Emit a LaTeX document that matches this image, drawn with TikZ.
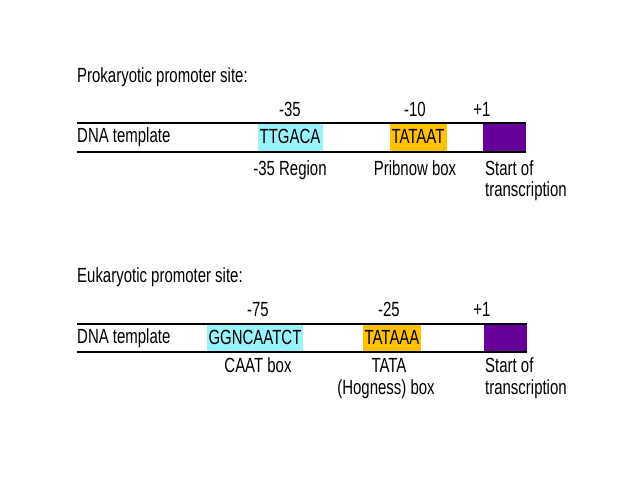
\documentclass[tikz,border=0pt]{standalone}
\usepackage{fontspec}
\setmainfont{Liberation Sans}[FakeStretch=0.73]
\usepackage{tikz}

\definecolor{boxcyan}{RGB}{153,243,250}
\definecolor{boxorange}{RGB}{255,192,0}
\definecolor{boxpurple}{RGB}{102,0,153}

\tikzset{
    lbl/.style={inner sep=0pt, anchor=base, font=\fontsize{20.5}{22}\selectfont},
    strand/.style={line width=1.5pt, black}
}

\begin{document}
\begin{tikzpicture}[x=1pt, y=-1pt]
        \useasboundingbox (0, 0) rectangle (638, 479);
        % Prokaryotic site:
        \node[lbl, anchor=base west](protitle) at (77, 82){Prokaryotic promoter site:};
        \fill[boxcyan] (258, 123) rectangle (323, 152);
        \fill[boxorange] (390, 123) rectangle (447, 152);
        \fill[boxpurple] (483, 123) rectangle (526, 152);
        \coordinate (protl) at (77, 123);
        \coordinate (protr) at (526, 123);
        \coordinate (probl) at (77, 152);
        \coordinate (probr) at (526, 152);
        \draw[strand] (protl) -- (protr);
        \draw[strand] (probl) -- (probr);
        \node[lbl, anchor=base west](prodna) at (77, 142){DNA template};
        \node[lbl](pro35) at (290, 116){-35};
        \node[lbl](pro10) at (415, 116){-10};
        \node[lbl](proone) at (482, 116){+1};
        \node[lbl](proseqa) at (290, 143){TTGACA};
        \node[lbl](proseqb) at (418, 143){TATAAT};
        \node[lbl](proregion) at (290, 175){-35 Region};
        \node[lbl](propribnow) at (415, 175){Pribnow box};
        \node[lbl, anchor=base west](prostart) at (485, 175){Start of};
        \node[lbl, anchor=base west](protrans) at (485, 196){transcription};
        % Eukaryotic site:
        \node[lbl, anchor=base west](eutitle) at (77, 282){Eukaryotic promoter site:};
        \fill[boxcyan] (207, 324) rectangle (303, 352);
        \fill[boxorange] (363, 324) rectangle (421, 352);
        \fill[boxpurple] (484, 324) rectangle (527, 352);
        \coordinate (eutl) at (77, 324);
        \coordinate (eutr) at (527, 324);
        \coordinate (eubl) at (77, 352);
        \coordinate (eubr) at (527, 352);
        \draw[strand] (eutl) -- (eutr);
        \draw[strand] (eubl) -- (eubr);
        \node[lbl, anchor=base west](eudna) at (77, 343){DNA template};
        \node[lbl](eu75) at (258, 316){-75};
        \node[lbl](eu25) at (389, 316){-25};
        \node[lbl](euone) at (482, 316){+1};
        \node[lbl](euseqa) at (255, 344){GGNCAATCT};
        \node[lbl](euseqb) at (392, 344){TATAAA};
        \node[lbl](eucaat) at (258, 372){CAAT box};
        \node[lbl](eutata) at (389, 372){TATA};
        \node[lbl](euhogness) at (386, 394){(Hogness) box};
        \node[lbl, anchor=base west](eustart) at (485, 372){Start of};
        \node[lbl, anchor=base west](eutrans) at (485, 394){transcription};
    \end{tikzpicture}
\end{document}
